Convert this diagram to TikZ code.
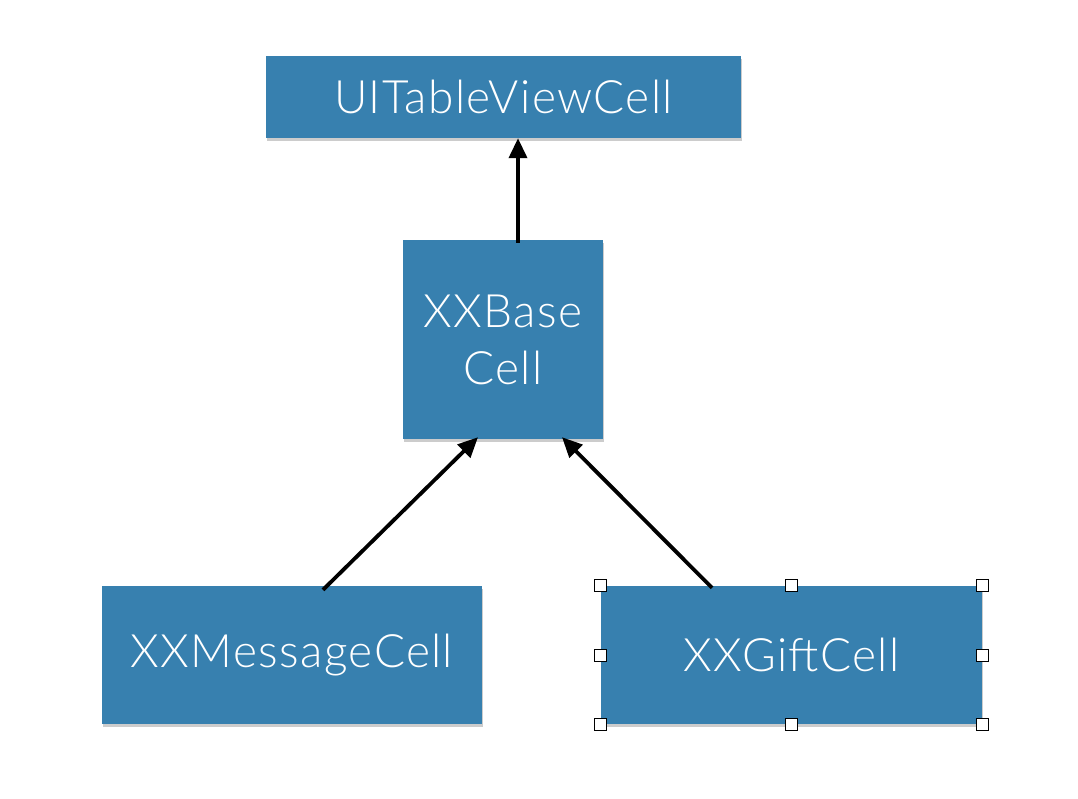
\documentclass[tikz,border=0pt]{standalone}
\usepackage{fontspec}
\setmainfont{Lato}[UprightFont=* Light, LetterSpace=3]
\usetikzlibrary{arrows.meta,calc,shadows}
\definecolor{cellblue}{RGB}{55,128,175}
\tikzset{
  cell/.style={fill=cellblue, text=white, inner sep=0pt, align=center,
    font=\fontsize{46}{57}\selectfont,
    drop shadow={opacity=0.2, shadow xshift=1pt, shadow yshift=-2.5pt, fill=black}},
  inherit/.style={line width=3.8pt, -{Triangle[length=20pt,width=18pt]}},
  handle/.style={draw=black, fill=white, line width=0.8pt, minimum size=12pt, inner sep=0pt}
}
\begin{document}
\begin{tikzpicture}[x=1pt,y=-1pt]
\useasboundingbox (0,0) rectangle (1078,798);
\node[cell, minimum width=475pt, minimum height=82pt] (ui) at (503.5,97) {UITableViewCell};
\node[cell, minimum width=200pt, minimum height=199pt, text width=200pt] (base) at (503,339.5) {\raisebox{-3pt}{XXBase}\\\raisebox{-3pt}{Cell}};
\node[cell, minimum width=380pt, minimum height=138pt] (msg) at (292,655) {XXMessageCell};
\node[cell, minimum width=381pt, minimum height=138pt] (gift) at (791.5,655) {XXGiftCell};
\draw[inherit] ($(base.north)+(15,3)$) -- ($(ui.south)+(14.5,0)$);
\draw[inherit] ($(msg.north)+(31,4)$) -- ($(base.south)+(-25,-2)$);
\draw[inherit] ($(gift.north)+(-79.5,2)$) -- ($(base.south)+(59,-2)$);
\foreach \a in {north west,north,north east,west,east,south west,south,south east}
  \node[handle] at (gift.\a) {};
\end{tikzpicture}
\end{document}
